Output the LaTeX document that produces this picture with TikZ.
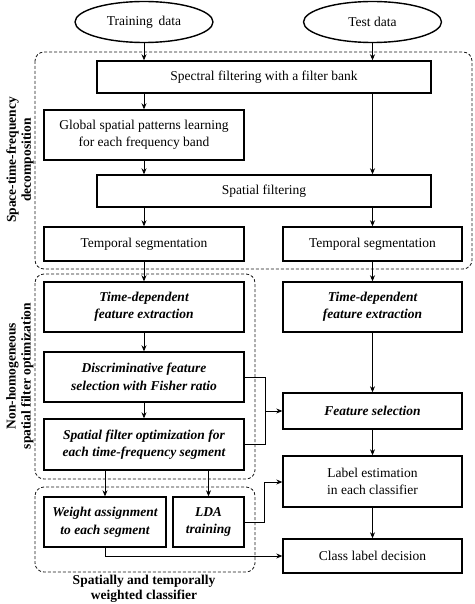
\documentclass[tikz,border=0pt]{standalone}
\usepackage{fontspec}
\setmainfont{Liberation Serif}
\usetikzlibrary{shapes.geometric,arrows.meta}
\pgfdeclarelayer{edgelayer}
\pgfdeclarelayer{nodelayer}
\pgfsetlayers{edgelayer,nodelayer,main}
\tikzstyle{edge}=[draw=black, line width=0.7pt, -{Stealth[length=6pt,width=5pt]}]
\tikzstyle{link}=[draw=black, line width=0.7pt]
\tikzstyle{group}=[draw=black!90, line width=0.8pt, dash pattern=on 3pt off 2pt, rounded corners=9pt]
\tikzstyle{stepbox}=[rectangle, draw=black, fill=white, line width=1.4pt, align=center, inner sep=2pt, font=\fontsize{13.5}{17.5}\selectfont]
\tikzstyle{keybox}=[stepbox, font=\fontsize{13.5}{17.5}\selectfont\bfseries\itshape]
\tikzstyle{source}=[ellipse, draw=black, fill=white, line width=1.4pt, minimum width=138pt, minimum height=41pt, font=\fontsize{13.5}{16}\selectfont]
\tikzstyle{sidelabel}=[align=center, font=\fontsize{13.5}{15}\selectfont\bfseries]

\begin{document}
\begin{tikzpicture}[x=1pt, y=-1pt]
				\useasboundingbox (0,0) rectangle (474,604);
				\begin{pgfonlayer}{nodelayer}
					\node [style=source] (1) at (144, 22) {Training\, data};
					\node [style=source] (2) at (372.5, 22) {Test data};
					\node [style=stepbox, minimum width=334pt, minimum height=32pt] (3) at (264, 77) {Spectral filtering with a filter bank};
					\node [style=stepbox, minimum width=200pt, minimum height=50pt] (4) at (144, 135) {Global spatial patterns learning\\for each frequency band};
					\node [style=stepbox, minimum width=334pt, minimum height=32pt] (5) at (264, 191) {Spatial filtering};
					\node [style=stepbox, minimum width=200pt, minimum height=34pt] (6) at (144, 244) {Temporal segmentation};
					\node [style=stepbox, minimum width=179pt, minimum height=34pt] (7) at (372.5, 244) {Temporal segmentation};
					\node [style=keybox, minimum width=200pt, minimum height=50pt] (8) at (144, 307) {Time-dependent\\feature extraction};
					\node [style=keybox, minimum width=179pt, minimum height=50pt] (9) at (372.5, 307) {Time-dependent\\feature extraction};
					\node [style=keybox, minimum width=200pt, minimum height=50pt] (10) at (144, 377) {Discriminative feature\\selection with Fisher ratio};
					\node [style=keybox, minimum width=200pt, minimum height=51pt] (11) at (144, 444.5) {Spatial filter optimization for\\each time-frequency segment};
					\node [style=keybox, minimum width=179pt, minimum height=36pt] (12) at (372.5, 411) {Feature selection};
					\node [style=stepbox, minimum width=179pt, minimum height=51pt] (13) at (372.5, 481.5) {Label estimation\\in each classifier};
					\node [style=keybox, minimum width=122pt, minimum height=50pt] (14) at (105, 522) {Weight assignment\\to each segment};
					\node [style=keybox, minimum width=71pt, minimum height=50pt] (15) at (208.5, 522) {LDA\\training};
					\node [style=stepbox, minimum width=179pt, minimum height=34pt] (16) at (372.5, 556) {Class label decision};
					\node [style=sidelabel, rotate=90] (20) at (20, 160) {Space-time-frequency\\decomposition};
					\node [style=sidelabel, rotate=90] (21) at (20, 376) {Non-homogeneous\\spatial filter optimization};
					\node [style=sidelabel] (22) at (144, 588.5) {Spatially and temporally\\weighted classifier};
					\coordinate (17) at (265, 411);
					\coordinate (18) at (264, 482);
				\end{pgfonlayer}
				\begin{pgfonlayer}{edgelayer}
					\draw [style=group] (35, 52) rectangle (472, 269);
					\draw [style=group] (35, 274) rectangle (255, 479);
					\draw [style=group] (35, 487) rectangle (255, 572);
					\draw [style=edge] (1) to (1 |- 3.north);
					\draw [style=edge] (2) to (2 |- 3.north);
					\draw [style=edge] (3.south -| 4) to (4);
					\draw [style=edge] (3.south -| 7) to (7 |- 5.north);
					\draw [style=edge] (4) to (4 |- 5.north);
					\draw [style=edge] (5.south -| 6) to (6);
					\draw [style=edge] (5.south -| 7) to (7);
					\draw [style=edge] (6) to (8);
					\draw [style=edge] (7) to (9);
					\draw [style=edge] (8) to (10);
					\draw [style=edge] (9) to (12);
					\draw [style=edge] (10) to (11);
					\draw [style=edge] (11.south -| 14) to (14);
					\draw [style=edge] (11.south -| 15) to (15);
					\draw [style=link] (10.east) -| (17);
					\draw [style=link] (11.east) -| (17);
					\draw [style=edge] (17) to (12);
					\draw [style=edge] (15.east) -| (18) -- (18 -| 13.west);
					\draw [style=edge] (14) |- (16);
					\draw [style=edge] (12) to (13);
					\draw [style=edge] (13) to (16);
				\end{pgfonlayer}
			\end{tikzpicture}
\end{document}
